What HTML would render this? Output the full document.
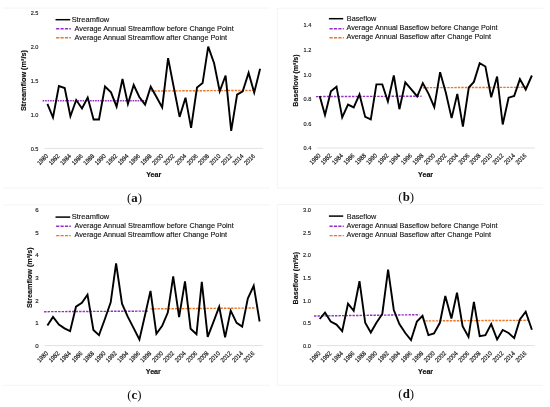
<!DOCTYPE html>
<html lang="en"><head><meta charset="utf-8"><title>Streamflow and Baseflow</title>
<style>
html,body{margin:0;padding:0;background:#fff;}
body{width:550px;height:407px;overflow:hidden;}
svg{display:block;font-family:"Liberation Sans", sans-serif;}
</style></head><body>
<svg width="550" height="407" viewBox="0 0 550 407">
<rect width="550" height="407" fill="#fff"/>
<path d="M3 8H269.5M3 188H269.5M277.3 8V188M277.3 8.2H543M277.3 188H543M277.3 204.5V385.3M277.3 204.5H543M277.3 385.3H543M3 204.8H269.5M3 385.3H269.5" fill="none" stroke="#f1f1f1" stroke-width="0.8"/>
<line x1="44.5" y1="148.4" x2="263" y2="148.4" stroke="#e1e1e1" stroke-width="1"/>
<text x="38.5" y="14.5" text-anchor="end" font-size="6.1" fill="#111" stroke="#111" stroke-width="0.12" textLength="7.8" lengthAdjust="spacingAndGlyphs">2.5</text>
<text x="38.5" y="48.6" text-anchor="end" font-size="6.1" fill="#111" stroke="#111" stroke-width="0.12" textLength="7.8" lengthAdjust="spacingAndGlyphs">2.0</text>
<text x="38.5" y="82.7" text-anchor="end" font-size="6.1" fill="#111" stroke="#111" stroke-width="0.12" textLength="7.8" lengthAdjust="spacingAndGlyphs">1.5</text>
<text x="38.5" y="116.8" text-anchor="end" font-size="6.1" fill="#111" stroke="#111" stroke-width="0.12" textLength="7.8" lengthAdjust="spacingAndGlyphs">1.0</text>
<text x="38.5" y="150.8" text-anchor="end" font-size="6.1" fill="#111" stroke="#111" stroke-width="0.12" textLength="7.8" lengthAdjust="spacingAndGlyphs">0.5</text>
<text transform="translate(48.6,156.5) rotate(-45)" text-anchor="end" font-size="6.3" fill="#111" stroke="#111" stroke-width="0.15" textLength="12.7" lengthAdjust="spacingAndGlyphs">1980</text>
<text transform="translate(60.1,156.5) rotate(-45)" text-anchor="end" font-size="6.3" fill="#111" stroke="#111" stroke-width="0.15" textLength="12.7" lengthAdjust="spacingAndGlyphs">1982</text>
<text transform="translate(71.6,156.5) rotate(-45)" text-anchor="end" font-size="6.3" fill="#111" stroke="#111" stroke-width="0.15" textLength="12.7" lengthAdjust="spacingAndGlyphs">1984</text>
<text transform="translate(83.2,156.5) rotate(-45)" text-anchor="end" font-size="6.3" fill="#111" stroke="#111" stroke-width="0.15" textLength="12.7" lengthAdjust="spacingAndGlyphs">1986</text>
<text transform="translate(94.8,156.5) rotate(-45)" text-anchor="end" font-size="6.3" fill="#111" stroke="#111" stroke-width="0.15" textLength="12.7" lengthAdjust="spacingAndGlyphs">1988</text>
<text transform="translate(106.2,156.5) rotate(-45)" text-anchor="end" font-size="6.3" fill="#111" stroke="#111" stroke-width="0.15" textLength="12.7" lengthAdjust="spacingAndGlyphs">1990</text>
<text transform="translate(117.8,156.5) rotate(-45)" text-anchor="end" font-size="6.3" fill="#111" stroke="#111" stroke-width="0.15" textLength="12.7" lengthAdjust="spacingAndGlyphs">1992</text>
<text transform="translate(129.1,156.5) rotate(-45)" text-anchor="end" font-size="6.3" fill="#111" stroke="#111" stroke-width="0.15" textLength="12.7" lengthAdjust="spacingAndGlyphs">1994</text>
<text transform="translate(140.5,156.5) rotate(-45)" text-anchor="end" font-size="6.3" fill="#111" stroke="#111" stroke-width="0.15" textLength="12.7" lengthAdjust="spacingAndGlyphs">1996</text>
<text transform="translate(151.9,156.5) rotate(-45)" text-anchor="end" font-size="6.3" fill="#111" stroke="#111" stroke-width="0.15" textLength="12.7" lengthAdjust="spacingAndGlyphs">1998</text>
<text transform="translate(163.4,156.5) rotate(-45)" text-anchor="end" font-size="6.3" fill="#111" stroke="#111" stroke-width="0.15" textLength="12.7" lengthAdjust="spacingAndGlyphs">2000</text>
<text transform="translate(175.0,156.5) rotate(-45)" text-anchor="end" font-size="6.3" fill="#111" stroke="#111" stroke-width="0.15" textLength="12.7" lengthAdjust="spacingAndGlyphs">2002</text>
<text transform="translate(186.7,156.5) rotate(-45)" text-anchor="end" font-size="6.3" fill="#111" stroke="#111" stroke-width="0.15" textLength="12.7" lengthAdjust="spacingAndGlyphs">2004</text>
<text transform="translate(198.2,156.5) rotate(-45)" text-anchor="end" font-size="6.3" fill="#111" stroke="#111" stroke-width="0.15" textLength="12.7" lengthAdjust="spacingAndGlyphs">2006</text>
<text transform="translate(209.4,156.5) rotate(-45)" text-anchor="end" font-size="6.3" fill="#111" stroke="#111" stroke-width="0.15" textLength="12.7" lengthAdjust="spacingAndGlyphs">2008</text>
<text transform="translate(220.9,156.5) rotate(-45)" text-anchor="end" font-size="6.3" fill="#111" stroke="#111" stroke-width="0.15" textLength="12.7" lengthAdjust="spacingAndGlyphs">2010</text>
<text transform="translate(232.4,156.5) rotate(-45)" text-anchor="end" font-size="6.3" fill="#111" stroke="#111" stroke-width="0.15" textLength="12.7" lengthAdjust="spacingAndGlyphs">2012</text>
<text transform="translate(243.9,156.5) rotate(-45)" text-anchor="end" font-size="6.3" fill="#111" stroke="#111" stroke-width="0.15" textLength="12.7" lengthAdjust="spacingAndGlyphs">2014</text>
<text transform="translate(255.4,156.5) rotate(-45)" text-anchor="end" font-size="6.3" fill="#111" stroke="#111" stroke-width="0.15" textLength="12.7" lengthAdjust="spacingAndGlyphs">2016</text>
<line x1="42.6" y1="100.75" x2="147" y2="100.75" stroke="#962ec6" stroke-width="1.4" stroke-dasharray="1.6 0.9"/>
<line x1="150.7" y1="91" x2="255.5" y2="90.4" stroke="#ee7420" stroke-width="1.4" stroke-dasharray="2.4 1.1"/>
<polyline points="47.4,103.9 53.0,117.5 58.9,86.0 64.7,88.0 70.4,116.2 76.2,100.0 82.0,108.5 87.7,97.5 93.6,119.5 99.0,119.5 105.0,86.5 111.0,92.4 116.6,106.7 122.5,79.0 127.9,104.0 133.7,85.0 139.3,97.0 145.1,104.6 150.7,86.7 156.5,97.0 162.2,107.4 168.1,58.1 173.8,87.5 179.6,116.9 185.5,97.7 191.1,127.9 197.0,87.5 202.6,83.1 208.2,46.6 214.1,63.2 219.7,91.3 225.6,75.5 231.2,130.9 237.1,94.6 242.7,91.3 248.6,72.9 254.2,92.6 260.1,68.8" fill="none" stroke="#000" stroke-width="1.9" stroke-linejoin="miter" stroke-linecap="butt"/>
<line x1="55.5" y1="19.7" x2="70.2" y2="19.7" stroke="#000" stroke-width="1.5"/>
<line x1="56.1" y1="28.7" x2="70.8" y2="28.7" stroke="#962ec6" stroke-width="1.4" stroke-dasharray="3.2 1.2"/>
<line x1="56.1" y1="37.7" x2="70.8" y2="37.7" stroke="#ee7420" stroke-width="1.4" stroke-dasharray="3.2 1.2"/>
<text x="71.8" y="22.2" font-size="7.6" fill="#111" stroke="#111" stroke-width="0.12" textLength="37.4" lengthAdjust="spacingAndGlyphs">Streamflow</text>
<text x="74.5" y="30.5" font-size="7.6" fill="#111" stroke="#111" stroke-width="0.12" textLength="159.2" lengthAdjust="spacingAndGlyphs">Average Annual Streamflow before Change Point</text>
<text x="74.5" y="39.8" font-size="7.6" fill="#111" stroke="#111" stroke-width="0.12" textLength="152.6" lengthAdjust="spacingAndGlyphs">Average Annual Streamflow after Change Point</text>
<text transform="translate(25.9,80.6) rotate(-90)" text-anchor="middle" font-size="7.1" font-weight="bold" fill="#111" stroke="#111" stroke-width="0.15" textLength="61" lengthAdjust="spacingAndGlyphs">Streamflow (m³/s)</text>
<text x="153.7" y="176.5" text-anchor="middle" font-size="7.1" font-weight="bold" fill="#111" stroke="#111" stroke-width="0.15" textLength="15" lengthAdjust="spacingAndGlyphs">Year</text>
<text x="134.5" y="201.5" text-anchor="middle" font-family='"Liberation Serif", serif' font-size="12.8" fill="#111">(<tspan font-weight="bold">a</tspan>)</text>
<line x1="316.8" y1="148.0" x2="534.8" y2="148.0" stroke="#e1e1e1" stroke-width="1"/>
<text x="311.4" y="27.4" text-anchor="end" font-size="6.1" fill="#111" stroke="#111" stroke-width="0.12" textLength="7.8" lengthAdjust="spacingAndGlyphs">1.4</text>
<text x="311.4" y="51.9" text-anchor="end" font-size="6.1" fill="#111" stroke="#111" stroke-width="0.12" textLength="7.8" lengthAdjust="spacingAndGlyphs">1.2</text>
<text x="311.4" y="76.5" text-anchor="end" font-size="6.1" fill="#111" stroke="#111" stroke-width="0.12" textLength="7.8" lengthAdjust="spacingAndGlyphs">1.0</text>
<text x="311.4" y="101.0" text-anchor="end" font-size="6.1" fill="#111" stroke="#111" stroke-width="0.12" textLength="7.8" lengthAdjust="spacingAndGlyphs">0.8</text>
<text x="311.4" y="125.6" text-anchor="end" font-size="6.1" fill="#111" stroke="#111" stroke-width="0.12" textLength="7.8" lengthAdjust="spacingAndGlyphs">0.6</text>
<text x="311.4" y="150.1" text-anchor="end" font-size="6.1" fill="#111" stroke="#111" stroke-width="0.12" textLength="7.8" lengthAdjust="spacingAndGlyphs">0.4</text>
<text transform="translate(320.9,156.1) rotate(-45)" text-anchor="end" font-size="6.3" fill="#111" stroke="#111" stroke-width="0.15" textLength="12.7" lengthAdjust="spacingAndGlyphs">1980</text>
<text transform="translate(332.1,156.1) rotate(-45)" text-anchor="end" font-size="6.3" fill="#111" stroke="#111" stroke-width="0.15" textLength="12.7" lengthAdjust="spacingAndGlyphs">1982</text>
<text transform="translate(343.4,156.1) rotate(-45)" text-anchor="end" font-size="6.3" fill="#111" stroke="#111" stroke-width="0.15" textLength="12.7" lengthAdjust="spacingAndGlyphs">1984</text>
<text transform="translate(354.9,156.1) rotate(-45)" text-anchor="end" font-size="6.3" fill="#111" stroke="#111" stroke-width="0.15" textLength="12.7" lengthAdjust="spacingAndGlyphs">1986</text>
<text transform="translate(366.4,156.1) rotate(-45)" text-anchor="end" font-size="6.3" fill="#111" stroke="#111" stroke-width="0.15" textLength="12.7" lengthAdjust="spacingAndGlyphs">1988</text>
<text transform="translate(377.6,156.1) rotate(-45)" text-anchor="end" font-size="6.3" fill="#111" stroke="#111" stroke-width="0.15" textLength="12.7" lengthAdjust="spacingAndGlyphs">1990</text>
<text transform="translate(389.1,156.1) rotate(-45)" text-anchor="end" font-size="6.3" fill="#111" stroke="#111" stroke-width="0.15" textLength="12.7" lengthAdjust="spacingAndGlyphs">1992</text>
<text transform="translate(400.6,156.1) rotate(-45)" text-anchor="end" font-size="6.3" fill="#111" stroke="#111" stroke-width="0.15" textLength="12.7" lengthAdjust="spacingAndGlyphs">1994</text>
<text transform="translate(412.5,156.1) rotate(-45)" text-anchor="end" font-size="6.3" fill="#111" stroke="#111" stroke-width="0.15" textLength="12.7" lengthAdjust="spacingAndGlyphs">1996</text>
<text transform="translate(424.0,156.1) rotate(-45)" text-anchor="end" font-size="6.3" fill="#111" stroke="#111" stroke-width="0.15" textLength="12.7" lengthAdjust="spacingAndGlyphs">1998</text>
<text transform="translate(435.5,156.1) rotate(-45)" text-anchor="end" font-size="6.3" fill="#111" stroke="#111" stroke-width="0.15" textLength="12.7" lengthAdjust="spacingAndGlyphs">2000</text>
<text transform="translate(447.0,156.1) rotate(-45)" text-anchor="end" font-size="6.3" fill="#111" stroke="#111" stroke-width="0.15" textLength="12.7" lengthAdjust="spacingAndGlyphs">2002</text>
<text transform="translate(458.5,156.1) rotate(-45)" text-anchor="end" font-size="6.3" fill="#111" stroke="#111" stroke-width="0.15" textLength="12.7" lengthAdjust="spacingAndGlyphs">2004</text>
<text transform="translate(470.0,156.1) rotate(-45)" text-anchor="end" font-size="6.3" fill="#111" stroke="#111" stroke-width="0.15" textLength="12.7" lengthAdjust="spacingAndGlyphs">2006</text>
<text transform="translate(480.9,156.1) rotate(-45)" text-anchor="end" font-size="6.3" fill="#111" stroke="#111" stroke-width="0.15" textLength="12.7" lengthAdjust="spacingAndGlyphs">2008</text>
<text transform="translate(492.4,156.1) rotate(-45)" text-anchor="end" font-size="6.3" fill="#111" stroke="#111" stroke-width="0.15" textLength="12.7" lengthAdjust="spacingAndGlyphs">2010</text>
<text transform="translate(503.9,156.1) rotate(-45)" text-anchor="end" font-size="6.3" fill="#111" stroke="#111" stroke-width="0.15" textLength="12.7" lengthAdjust="spacingAndGlyphs">2012</text>
<text transform="translate(515.4,156.1) rotate(-45)" text-anchor="end" font-size="6.3" fill="#111" stroke="#111" stroke-width="0.15" textLength="12.7" lengthAdjust="spacingAndGlyphs">2014</text>
<text transform="translate(526.9,156.1) rotate(-45)" text-anchor="end" font-size="6.3" fill="#111" stroke="#111" stroke-width="0.15" textLength="12.7" lengthAdjust="spacingAndGlyphs">2016</text>
<line x1="316" y1="96.6" x2="421.5" y2="96.2" stroke="#962ec6" stroke-width="1.4" stroke-dasharray="2.4 1.2"/>
<line x1="422.8" y1="87.7" x2="526.5" y2="87.3" stroke="#ee7420" stroke-width="1.4" stroke-dasharray="2.4 1.1"/>
<polyline points="319.7,95.9 325.0,115.1 330.9,91.3 336.5,86.7 342.2,117.4 348.0,104.6 353.7,107.4 359.5,94.4 365.2,116.9 370.8,119.4 376.4,84.4 382.3,84.4 387.9,101.5 393.8,75.5 399.4,109.2 405.3,82.4 411.3,89.3 417.2,96.4 422.8,83.1 428.6,93.9 434.3,107.2 440.1,72.2 445.8,92.6 451.6,118.1 457.3,93.9 462.9,126.6 468.8,87.5 473.9,81.9 479.7,63.2 485.4,66.5 491.2,97.2 497.1,76.5 502.7,124.5 508.6,97.7 514.2,95.9 519.9,79.1 525.7,89.5 531.9,75.5" fill="none" stroke="#000" stroke-width="1.9" stroke-linejoin="miter" stroke-linecap="butt"/>
<line x1="328.9" y1="18.7" x2="343.2" y2="18.7" stroke="#000" stroke-width="1.5"/>
<line x1="329.5" y1="28.7" x2="343.8" y2="28.7" stroke="#962ec6" stroke-width="1.4" stroke-dasharray="3.2 1.2"/>
<line x1="329.5" y1="37.7" x2="343.8" y2="37.7" stroke="#ee7420" stroke-width="1.4" stroke-dasharray="3.2 1.2"/>
<text x="346.8" y="21.3" font-size="7.6" fill="#111" stroke="#111" stroke-width="0.12" textLength="29.5" lengthAdjust="spacingAndGlyphs">Baseflow</text>
<text x="346.5" y="30.3" font-size="7.6" fill="#111" stroke="#111" stroke-width="0.12" textLength="151" lengthAdjust="spacingAndGlyphs">Average Annual Baseflow before Change Point</text>
<text x="346.5" y="39.4" font-size="7.6" fill="#111" stroke="#111" stroke-width="0.12" textLength="144.5" lengthAdjust="spacingAndGlyphs">Average Annual Baseflow after Change Point</text>
<text transform="translate(298,80.5) rotate(-90)" text-anchor="middle" font-size="7.1" font-weight="bold" fill="#111" stroke="#111" stroke-width="0.15" textLength="52.3" lengthAdjust="spacingAndGlyphs">Baseflow (m³/s)</text>
<text x="425.6" y="176.9" text-anchor="middle" font-size="7.1" font-weight="bold" fill="#111" stroke="#111" stroke-width="0.15" textLength="15" lengthAdjust="spacingAndGlyphs">Year</text>
<text x="406.2" y="201.3" text-anchor="middle" font-family='"Liberation Serif", serif' font-size="12.8" fill="#111">(<tspan font-weight="bold">b</tspan>)</text>
<line x1="44.5" y1="345.6" x2="262.5" y2="345.6" stroke="#e1e1e1" stroke-width="1"/>
<text x="38.6" y="211.8" text-anchor="end" font-size="6.1" fill="#111" stroke="#111" stroke-width="0.12">6</text>
<text x="38.6" y="234.5" text-anchor="end" font-size="6.1" fill="#111" stroke="#111" stroke-width="0.12">5</text>
<text x="38.6" y="257.2" text-anchor="end" font-size="6.1" fill="#111" stroke="#111" stroke-width="0.12">4</text>
<text x="38.6" y="279.9" text-anchor="end" font-size="6.1" fill="#111" stroke="#111" stroke-width="0.12">3</text>
<text x="38.6" y="302.6" text-anchor="end" font-size="6.1" fill="#111" stroke="#111" stroke-width="0.12">2</text>
<text x="38.6" y="325.2" text-anchor="end" font-size="6.1" fill="#111" stroke="#111" stroke-width="0.12">1</text>
<text x="38.6" y="347.9" text-anchor="end" font-size="6.1" fill="#111" stroke="#111" stroke-width="0.12">0</text>
<text transform="translate(48.6,353.7) rotate(-45)" text-anchor="end" font-size="6.3" fill="#111" stroke="#111" stroke-width="0.15" textLength="12.7" lengthAdjust="spacingAndGlyphs">1980</text>
<text transform="translate(60.1,353.7) rotate(-45)" text-anchor="end" font-size="6.3" fill="#111" stroke="#111" stroke-width="0.15" textLength="12.7" lengthAdjust="spacingAndGlyphs">1982</text>
<text transform="translate(71.3,353.7) rotate(-45)" text-anchor="end" font-size="6.3" fill="#111" stroke="#111" stroke-width="0.15" textLength="12.7" lengthAdjust="spacingAndGlyphs">1984</text>
<text transform="translate(83.1,353.7) rotate(-45)" text-anchor="end" font-size="6.3" fill="#111" stroke="#111" stroke-width="0.15" textLength="12.7" lengthAdjust="spacingAndGlyphs">1986</text>
<text transform="translate(94.6,353.7) rotate(-45)" text-anchor="end" font-size="6.3" fill="#111" stroke="#111" stroke-width="0.15" textLength="12.7" lengthAdjust="spacingAndGlyphs">1988</text>
<text transform="translate(106.1,353.7) rotate(-45)" text-anchor="end" font-size="6.3" fill="#111" stroke="#111" stroke-width="0.15" textLength="12.7" lengthAdjust="spacingAndGlyphs">1990</text>
<text transform="translate(117.3,353.7) rotate(-45)" text-anchor="end" font-size="6.3" fill="#111" stroke="#111" stroke-width="0.15" textLength="12.7" lengthAdjust="spacingAndGlyphs">1992</text>
<text transform="translate(128.8,353.7) rotate(-45)" text-anchor="end" font-size="6.3" fill="#111" stroke="#111" stroke-width="0.15" textLength="12.7" lengthAdjust="spacingAndGlyphs">1994</text>
<text transform="translate(140.6,353.7) rotate(-45)" text-anchor="end" font-size="6.3" fill="#111" stroke="#111" stroke-width="0.15" textLength="12.7" lengthAdjust="spacingAndGlyphs">1996</text>
<text transform="translate(151.7,353.7) rotate(-45)" text-anchor="end" font-size="6.3" fill="#111" stroke="#111" stroke-width="0.15" textLength="12.7" lengthAdjust="spacingAndGlyphs">1998</text>
<text transform="translate(163.4,353.7) rotate(-45)" text-anchor="end" font-size="6.3" fill="#111" stroke="#111" stroke-width="0.15" textLength="12.7" lengthAdjust="spacingAndGlyphs">2000</text>
<text transform="translate(174.4,353.7) rotate(-45)" text-anchor="end" font-size="6.3" fill="#111" stroke="#111" stroke-width="0.15" textLength="12.7" lengthAdjust="spacingAndGlyphs">2002</text>
<text transform="translate(186.2,353.7) rotate(-45)" text-anchor="end" font-size="6.3" fill="#111" stroke="#111" stroke-width="0.15" textLength="12.7" lengthAdjust="spacingAndGlyphs">2004</text>
<text transform="translate(197.7,353.7) rotate(-45)" text-anchor="end" font-size="6.3" fill="#111" stroke="#111" stroke-width="0.15" textLength="12.7" lengthAdjust="spacingAndGlyphs">2006</text>
<text transform="translate(208.9,353.7) rotate(-45)" text-anchor="end" font-size="6.3" fill="#111" stroke="#111" stroke-width="0.15" textLength="12.7" lengthAdjust="spacingAndGlyphs">2008</text>
<text transform="translate(220.4,353.7) rotate(-45)" text-anchor="end" font-size="6.3" fill="#111" stroke="#111" stroke-width="0.15" textLength="12.7" lengthAdjust="spacingAndGlyphs">2010</text>
<text transform="translate(231.9,353.7) rotate(-45)" text-anchor="end" font-size="6.3" fill="#111" stroke="#111" stroke-width="0.15" textLength="12.7" lengthAdjust="spacingAndGlyphs">2012</text>
<text transform="translate(243.4,353.7) rotate(-45)" text-anchor="end" font-size="6.3" fill="#111" stroke="#111" stroke-width="0.15" textLength="12.7" lengthAdjust="spacingAndGlyphs">2014</text>
<text transform="translate(254.9,353.7) rotate(-45)" text-anchor="end" font-size="6.3" fill="#111" stroke="#111" stroke-width="0.15" textLength="12.7" lengthAdjust="spacingAndGlyphs">2016</text>
<line x1="44.1" y1="311.7" x2="148.8" y2="311.1" stroke="#962ec6" stroke-width="1.4" stroke-dasharray="2.4 1.1"/>
<line x1="150.5" y1="308.9" x2="255.2" y2="308" stroke="#ee7420" stroke-width="1.4" stroke-dasharray="2.4 1.1"/>
<polyline points="47.4,325.4 53.0,316.9 58.9,324.6 64.5,328.4 70.1,331.2 76.0,306.7 81.9,302.9 87.5,294.7 93.4,330.0 99.0,335.1 104.9,319.0 110.7,302.4 116.1,263.3 122.0,303.7 127.6,316.4 133.5,327.9 139.4,339.4 145.0,315.2 150.5,290.9 156.4,333.8 162.2,325.9 167.8,312.6 173.2,276.3 179.1,317.2 185.0,281.4 190.6,328.7 196.5,334.3 201.8,281.9 207.7,336.9 213.3,322.3 219.2,306.7 225.1,337.4 230.7,310.6 236.6,322.8 242.2,326.6 247.8,298.5 253.7,285.8 259.6,321.5" fill="none" stroke="#000" stroke-width="1.9" stroke-linejoin="miter" stroke-linecap="butt"/>
<line x1="55.5" y1="217.1" x2="70.2" y2="217.1" stroke="#000" stroke-width="1.5"/>
<line x1="56.1" y1="226.3" x2="70.8" y2="226.3" stroke="#962ec6" stroke-width="1.4" stroke-dasharray="3.2 1.2"/>
<line x1="56.1" y1="235.6" x2="70.8" y2="235.6" stroke="#ee7420" stroke-width="1.4" stroke-dasharray="3.2 1.2"/>
<text x="71.8" y="219.4" font-size="7.6" fill="#111" stroke="#111" stroke-width="0.12" textLength="37.4" lengthAdjust="spacingAndGlyphs">Streamflow</text>
<text x="74.5" y="227.8" font-size="7.6" fill="#111" stroke="#111" stroke-width="0.12" textLength="159.2" lengthAdjust="spacingAndGlyphs">Average Annual Streamflow before Change Point</text>
<text x="74.5" y="236.8" font-size="7.6" fill="#111" stroke="#111" stroke-width="0.12" textLength="152.6" lengthAdjust="spacingAndGlyphs">Average Annual Streamflow after Change Point</text>
<text transform="translate(31.7,277.7) rotate(-90)" text-anchor="middle" font-size="7.1" font-weight="bold" fill="#111" stroke="#111" stroke-width="0.15" textLength="60.5" lengthAdjust="spacingAndGlyphs">Streamflow (m³/s)</text>
<text x="153.3" y="374.3" text-anchor="middle" font-size="7.1" font-weight="bold" fill="#111" stroke="#111" stroke-width="0.15" textLength="15" lengthAdjust="spacingAndGlyphs">Year</text>
<text x="134.4" y="398.5" text-anchor="middle" font-family='"Liberation Serif", serif' font-size="12.8" fill="#111">(<tspan font-weight="bold">c</tspan>)</text>
<line x1="316.8" y1="345.6" x2="534.8" y2="345.6" stroke="#e1e1e1" stroke-width="1"/>
<text x="310.9" y="212.0" text-anchor="end" font-size="6.1" fill="#111" stroke="#111" stroke-width="0.12" textLength="7.8" lengthAdjust="spacingAndGlyphs">3.0</text>
<text x="310.9" y="234.7" text-anchor="end" font-size="6.1" fill="#111" stroke="#111" stroke-width="0.12" textLength="7.8" lengthAdjust="spacingAndGlyphs">2.5</text>
<text x="310.9" y="257.3" text-anchor="end" font-size="6.1" fill="#111" stroke="#111" stroke-width="0.12" textLength="7.8" lengthAdjust="spacingAndGlyphs">2.0</text>
<text x="310.9" y="279.9" text-anchor="end" font-size="6.1" fill="#111" stroke="#111" stroke-width="0.12" textLength="7.8" lengthAdjust="spacingAndGlyphs">1.5</text>
<text x="310.9" y="302.5" text-anchor="end" font-size="6.1" fill="#111" stroke="#111" stroke-width="0.12" textLength="7.8" lengthAdjust="spacingAndGlyphs">1.0</text>
<text x="310.9" y="325.1" text-anchor="end" font-size="6.1" fill="#111" stroke="#111" stroke-width="0.12" textLength="7.8" lengthAdjust="spacingAndGlyphs">0.5</text>
<text x="310.9" y="347.8" text-anchor="end" font-size="6.1" fill="#111" stroke="#111" stroke-width="0.12" textLength="7.8" lengthAdjust="spacingAndGlyphs">0.0</text>
<text transform="translate(320.9,353.7) rotate(-45)" text-anchor="end" font-size="6.3" fill="#111" stroke="#111" stroke-width="0.15" textLength="12.7" lengthAdjust="spacingAndGlyphs">1980</text>
<text transform="translate(331.9,353.7) rotate(-45)" text-anchor="end" font-size="6.3" fill="#111" stroke="#111" stroke-width="0.15" textLength="12.7" lengthAdjust="spacingAndGlyphs">1982</text>
<text transform="translate(343.4,353.7) rotate(-45)" text-anchor="end" font-size="6.3" fill="#111" stroke="#111" stroke-width="0.15" textLength="12.7" lengthAdjust="spacingAndGlyphs">1984</text>
<text transform="translate(354.9,353.7) rotate(-45)" text-anchor="end" font-size="6.3" fill="#111" stroke="#111" stroke-width="0.15" textLength="12.7" lengthAdjust="spacingAndGlyphs">1986</text>
<text transform="translate(366.4,353.7) rotate(-45)" text-anchor="end" font-size="6.3" fill="#111" stroke="#111" stroke-width="0.15" textLength="12.7" lengthAdjust="spacingAndGlyphs">1988</text>
<text transform="translate(377.6,353.7) rotate(-45)" text-anchor="end" font-size="6.3" fill="#111" stroke="#111" stroke-width="0.15" textLength="12.7" lengthAdjust="spacingAndGlyphs">1990</text>
<text transform="translate(389.3,353.7) rotate(-45)" text-anchor="end" font-size="6.3" fill="#111" stroke="#111" stroke-width="0.15" textLength="12.7" lengthAdjust="spacingAndGlyphs">1992</text>
<text transform="translate(400.6,353.7) rotate(-45)" text-anchor="end" font-size="6.3" fill="#111" stroke="#111" stroke-width="0.15" textLength="12.7" lengthAdjust="spacingAndGlyphs">1994</text>
<text transform="translate(412.2,353.7) rotate(-45)" text-anchor="end" font-size="6.3" fill="#111" stroke="#111" stroke-width="0.15" textLength="12.7" lengthAdjust="spacingAndGlyphs">1996</text>
<text transform="translate(423.7,353.7) rotate(-45)" text-anchor="end" font-size="6.3" fill="#111" stroke="#111" stroke-width="0.15" textLength="12.7" lengthAdjust="spacingAndGlyphs">1998</text>
<text transform="translate(435.2,353.7) rotate(-45)" text-anchor="end" font-size="6.3" fill="#111" stroke="#111" stroke-width="0.15" textLength="12.7" lengthAdjust="spacingAndGlyphs">2000</text>
<text transform="translate(446.5,353.7) rotate(-45)" text-anchor="end" font-size="6.3" fill="#111" stroke="#111" stroke-width="0.15" textLength="12.7" lengthAdjust="spacingAndGlyphs">2002</text>
<text transform="translate(458.2,353.7) rotate(-45)" text-anchor="end" font-size="6.3" fill="#111" stroke="#111" stroke-width="0.15" textLength="12.7" lengthAdjust="spacingAndGlyphs">2004</text>
<text transform="translate(469.7,353.7) rotate(-45)" text-anchor="end" font-size="6.3" fill="#111" stroke="#111" stroke-width="0.15" textLength="12.7" lengthAdjust="spacingAndGlyphs">2006</text>
<text transform="translate(480.9,353.7) rotate(-45)" text-anchor="end" font-size="6.3" fill="#111" stroke="#111" stroke-width="0.15" textLength="12.7" lengthAdjust="spacingAndGlyphs">2008</text>
<text transform="translate(492.4,353.7) rotate(-45)" text-anchor="end" font-size="6.3" fill="#111" stroke="#111" stroke-width="0.15" textLength="12.7" lengthAdjust="spacingAndGlyphs">2010</text>
<text transform="translate(503.9,353.7) rotate(-45)" text-anchor="end" font-size="6.3" fill="#111" stroke="#111" stroke-width="0.15" textLength="12.7" lengthAdjust="spacingAndGlyphs">2012</text>
<text transform="translate(515.4,353.7) rotate(-45)" text-anchor="end" font-size="6.3" fill="#111" stroke="#111" stroke-width="0.15" textLength="12.7" lengthAdjust="spacingAndGlyphs">2014</text>
<text transform="translate(526.9,353.7) rotate(-45)" text-anchor="end" font-size="6.3" fill="#111" stroke="#111" stroke-width="0.15" textLength="12.7" lengthAdjust="spacingAndGlyphs">2016</text>
<line x1="314" y1="316" x2="419.3" y2="314.7" stroke="#962ec6" stroke-width="1.4" stroke-dasharray="2.4 1.1"/>
<line x1="425.3" y1="320.9" x2="528.8" y2="320.3" stroke="#ee7420" stroke-width="1.4" stroke-dasharray="2.4 1.1"/>
<polyline points="319.7,319.0 325.0,312.6 330.7,321.5 336.5,324.6 342.2,331.2 348.0,303.7 353.7,310.8 359.5,281.2 365.2,322.8 370.8,332.5 376.4,322.8 382.3,313.9 388.1,269.7 393.8,310.0 399.4,324.1 405.3,333.0 411.0,340.0 416.9,321.5 422.5,315.9 428.4,335.1 434.0,333.5 439.9,322.8 445.3,296.0 451.4,318.5 457.0,292.7 462.6,326.1 468.5,336.9 473.9,301.9 479.7,336.1 485.4,335.1 491.2,324.1 497.1,339.4 502.7,330.0 508.6,333.0 514.2,338.1 519.9,319.5 525.7,311.8 531.9,329.7" fill="none" stroke="#000" stroke-width="1.9" stroke-linejoin="miter" stroke-linecap="butt"/>
<line x1="328.9" y1="216.1" x2="343.2" y2="216.1" stroke="#000" stroke-width="1.5"/>
<line x1="329.5" y1="226.2" x2="343.8" y2="226.2" stroke="#962ec6" stroke-width="1.4" stroke-dasharray="3.2 1.2"/>
<line x1="329.5" y1="235.6" x2="343.8" y2="235.6" stroke="#ee7420" stroke-width="1.4" stroke-dasharray="3.2 1.2"/>
<text x="346.8" y="218.6" font-size="7.6" fill="#111" stroke="#111" stroke-width="0.12" textLength="29.5" lengthAdjust="spacingAndGlyphs">Baseflow</text>
<text x="346.5" y="227.8" font-size="7.6" fill="#111" stroke="#111" stroke-width="0.12" textLength="151" lengthAdjust="spacingAndGlyphs">Average Annual Baseflow before Change Point</text>
<text x="346.5" y="236.8" font-size="7.6" fill="#111" stroke="#111" stroke-width="0.12" textLength="144.5" lengthAdjust="spacingAndGlyphs">Average Annual Baseflow after Change Point</text>
<text transform="translate(298,278.1) rotate(-90)" text-anchor="middle" font-size="7.1" font-weight="bold" fill="#111" stroke="#111" stroke-width="0.15" textLength="52.6" lengthAdjust="spacingAndGlyphs">Baseflow (m³/s)</text>
<text x="425.6" y="374.4" text-anchor="middle" font-size="7.1" font-weight="bold" fill="#111" stroke="#111" stroke-width="0.15" textLength="15" lengthAdjust="spacingAndGlyphs">Year</text>
<text x="406.2" y="398.3" text-anchor="middle" font-family='"Liberation Serif", serif' font-size="12.8" fill="#111">(<tspan font-weight="bold">d</tspan>)</text>
</svg>
</body></html>
